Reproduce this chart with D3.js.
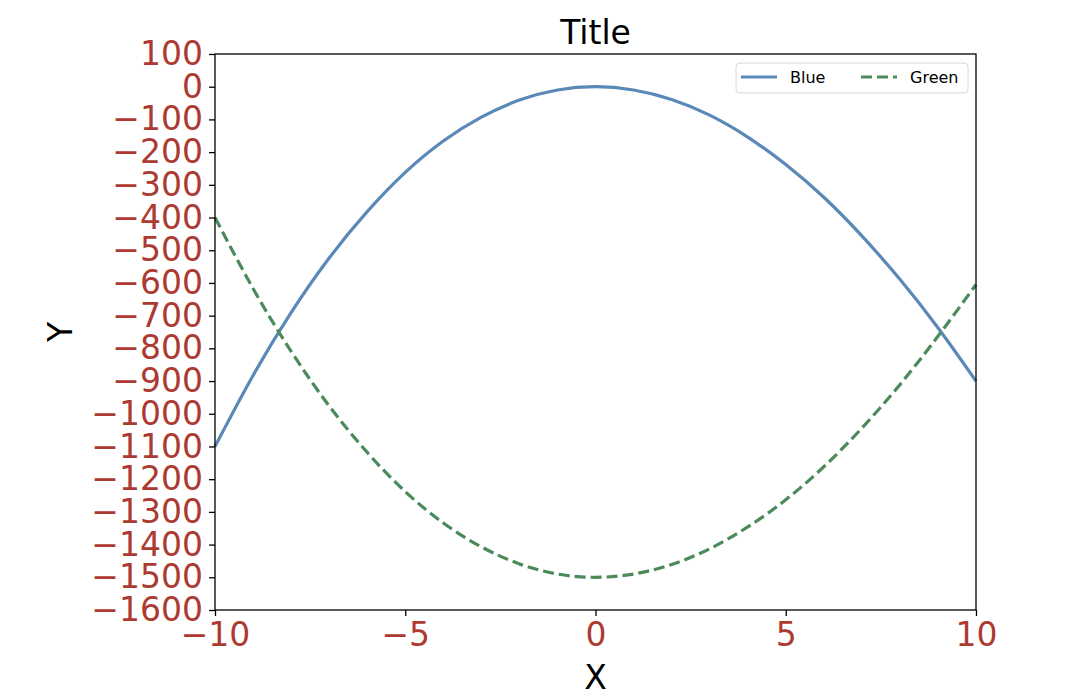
<!DOCTYPE html>
<html>
<head>
<meta charset="utf-8">
<script src="https://cdn.jsdelivr.net/npm/d3@7"></script>
<style>
  body { margin: 0; background: #fff; }
  text { font-family: "DejaVu Sans", sans-serif; }
</style>
</head>
<body>
<div class="chart"></div>
<script>
// data
const xValues = [-10, -9, -8, -7, -6, -5, -4, -3, -2, -1, 0, 1, 2, 3, 4, 5, 6, 7, 8, 9, 10];
const blueValues = [-1100, -883, -691, -524, -382, -262, -166, -93, -41, -10, 0, -10, -39, -87, -154, -238, -338, -456, -589, -737, -900];
const greenValues = [-400, -617, -809, -976, -1118, -1238, -1334, -1407, -1459, -1490, -1500, -1490, -1461, -1413, -1346, -1263, -1162, -1044, -911, -763, -605];
const seriesNames = ["Blue", "Green"];
const xTicks = [-10, -5, 0, 5, 10];
const yTicks = d3.range(100, -1700, -100);

// figure constants
const WIDTH = 1080;
const HEIGHT = 698;
const LEFT = 215, RIGHT = 976, TOP = 54, BOTTOM = 610;
const TICKCOLOR = "#ad3a31";
const BLUE = "#5a88b7";
const GREEN = "#4a8a5b";

const svg = d3.select(".chart")
  .append("svg")
  .attr("width", WIDTH)
  .attr("height", HEIGHT);

const x = d3.scaleLinear().domain([-10, 10]).range([LEFT, RIGHT]);
const y = d3.scaleLinear().domain([-1600, 100]).range([BOTTOM, TOP]);

// lines
const line = d3.line()
  .x((d, i) => x(xValues[i]))
  .y(d => y(d))
  .curve(d3.curveNatural);

svg.append("path")
  .datum(blueValues)
  .attr("d", line)
  .attr("fill", "none")
  .attr("stroke", BLUE)
  .attr("stroke-width", 3.2);

svg.append("path")
  .datum(greenValues)
  .attr("d", line)
  .attr("fill", "none")
  .attr("stroke", GREEN)
  .attr("stroke-width", 3.2)
  .attr("stroke-dasharray", "11,5");

// axes
const xAxis = svg.append("g")
  .attr("transform", `translate(0,${BOTTOM})`)
  .call(d3.axisBottom(x).tickValues(xTicks).tickSize(6).tickPadding(6)
    .tickFormat(d => d < 0 ? "\u2212" + Math.abs(d) : d));

const yAxis = svg.append("g")
  .attr("transform", `translate(${LEFT},0)`)
  .call(d3.axisLeft(y).tickValues(yTicks).tickSize(6).tickPadding(6)
    .tickFormat(d => d < 0 ? "\u2212" + Math.abs(d) : d));

[xAxis, yAxis].forEach(g => {
  g.select(".domain").remove();
  g.selectAll(".tick line").attr("stroke", "#000").attr("stroke-width", 1.3);
  g.selectAll(".tick text")
    .attr("fill", TICKCOLOR)
    .style("font-size", "33px")
    .style("font-family", "DejaVu Sans");
});
xAxis.selectAll(".tick text").attr("dy", "0.72em");

// frame
svg.append("rect")
  .attr("x", LEFT)
  .attr("y", TOP)
  .attr("width", RIGHT - LEFT)
  .attr("height", BOTTOM - TOP)
  .attr("fill", "none")
  .attr("stroke", "#000")
  .attr("stroke-width", 1.3);

// title and axis labels
svg.append("text")
  .attr("x", (LEFT + RIGHT) / 2)
  .attr("y", 44)
  .attr("text-anchor", "middle")
  .style("font-size", "33px")
  .text("Title");

svg.append("text")
  .attr("x", (LEFT + RIGHT) / 2)
  .attr("y", 689)
  .attr("text-anchor", "middle")
  .style("font-size", "33px")
  .text("X");

svg.append("text")
  .attr("transform", `translate(72,${(TOP + BOTTOM) / 2}) rotate(-90)`)
  .attr("text-anchor", "middle")
  .style("font-size", "33px")
  .text("Y");

// legend
const legend = svg.append("g");
legend.append("rect")
  .attr("x", 736)
  .attr("y", 63)
  .attr("width", 232)
  .attr("height", 30)
  .attr("rx", 4)
  .attr("fill", "#fff")
  .attr("fill-opacity", 0.8)
  .attr("stroke", "#d8d8d8");

const entries = [
  { name: seriesNames[0], color: BLUE, dash: null, x0: 741 },
  { name: seriesNames[1], color: GREEN, dash: "11,5", x0: 861 }
];
entries.forEach(e => {
  legend.append("line")
    .attr("x1", e.x0)
    .attr("x2", e.x0 + 36)
    .attr("y1", 77)
    .attr("y2", 77)
    .attr("stroke", e.color)
    .attr("stroke-width", 3.2)
    .attr("stroke-dasharray", e.dash);
  legend.append("text")
    .attr("x", e.x0 + 49)
    .attr("y", 83)
    .style("font-size", "16px")
    .text(e.name);
});
</script>
</body>
</html>
